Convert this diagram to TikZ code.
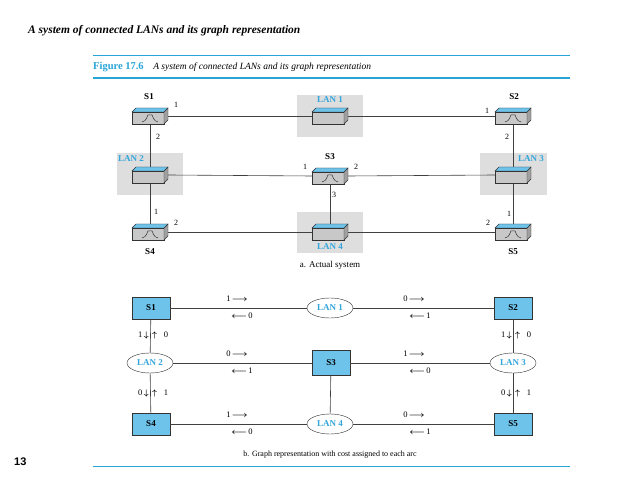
\documentclass[tikz,border=0pt]{standalone}
\usepackage{amsmath}
\usepackage{fontspec}
\setmainfont{Liberation Serif}
\newfontfamily\sansf{Liberation Sans}
\usetikzlibrary{shapes.geometric}
\definecolor{boxblue}{RGB}{110,195,235}
\definecolor{txtblue}{RGB}{50,165,220}
\definecolor{lanbg}{RGB}{222,222,222}
\definecolor{rule}{RGB}{40,165,215}
\definecolor{devgray}{RGB}{200,200,200}
\tikzset{
  devnode/.style={minimum width=36pt,minimum height=16pt,inner sep=0pt},
  link/.style={draw=black!75,line width=0.6pt},
  port/.style={font=\fontsize{8}{9}\selectfont,inner sep=0pt},
  sw/.style={font=\bfseries\fontsize{9}{10}\selectfont,inner sep=0pt},
  lanlbl/.style={font=\bfseries\fontsize{9}{10}\selectfont,text=txtblue,inner sep=0pt},
  gbox/.style={draw=black!80,fill=boxblue,minimum width=38pt,minimum height=22pt,font=\bfseries\fontsize{9}{10}\selectfont,inner sep=0pt},
  gell/.style={ellipse,draw=black!80,fill=white,minimum width=46pt,minimum height=20pt,font=\bfseries\fontsize{9}{10}\selectfont,text=txtblue,inner sep=0pt},
  cost/.style={font=\fontsize{8.5}{9}\selectfont,inner sep=0pt},
  captext/.style={font=\fontsize{9}{10}\selectfont,inner sep=0pt},
  dev/.pic={
    \fill[devgray,draw=black!80,line width=0.4pt] (-18,-4) rectangle (14,8);
    \fill[devgray!80!black,draw=black!80,line width=0.4pt] (14,-4)--(18,-8)--(18,4)--(14,8)--cycle;
    \fill[boxblue,draw=black!80,line width=0.4pt] (-18,-4)--(-14,-8)--(18,-8)--(14,-4)--cycle;
  },
  swsym/.pic={
    \draw[black!80,line width=0.5pt] (-8,6) .. controls (-3,5) and (-3,0) .. (-2,-1) -- (2,-1) .. controls (3,0) and (3,5) .. (8,6);
  }
}
\begin{document}
\begin{tikzpicture}[x=1pt,y=-1pt]
\useasboundingbox (0,0) rectangle (638,478);
\fill[white] (0,0) rectangle (638,478);
% title
\node[anchor=west,font=\bfseries\itshape\fontsize{11.5}{13}\selectfont,inner sep=0pt] (title) at (28,31) {A system of connected LANs and its graph representation};
\node[anchor=west,font=\sansf\bfseries\fontsize{11}{13}\selectfont,inner sep=0pt] (pg) at (14,462) {13};
% header
\draw[rule,line width=0.5pt] (93,55) -- (570,55);
\node[anchor=west,inner sep=0pt,font=\fontsize{9.5}{11}\selectfont] (fig) at (93,67) {\textcolor{rule}{\bfseries\fontsize{10.5}{11}\selectfont Figure 17.6}\quad\textit{A system of connected LANs and its graph representation}};
\draw[rule,line width=2pt] (93,78) -- (570,78);
% ---- part a ----
\fill[lanbg] (297,95) rectangle (363,137);
\fill[lanbg] (117,153) rectangle (183,195);
\fill[lanbg] (480,153) rectangle (547,195);
\fill[lanbg] (297,212) rectangle (363,253);
\node[devnode] (s1) at (150,116) {};
\node[devnode] (l1) at (330,116) {};
\node[devnode] (s2) at (513,116) {};
\node[devnode] (l2) at (150,175) {};
\node[devnode] (s3) at (330,176) {};
\node[devnode] (l3) at (513,175) {};
\node[devnode] (s4) at (150,232) {};
\node[devnode] (l4) at (330,232) {};
\node[devnode] (s5) at (513,232) {};
\draw[link] (s1.east) -- (l1.west);
\draw[link] (l1.east) -- (s2.west);
\draw[link] (l2.east) -- (s3.west);
\draw[link] (s3.east) -- (l3.west);
\draw[link] (s4.east) -- (l4.west);
\draw[link] (l4.east) -- (s5.west);
\draw[link] (s1.south) -- (l2.center);
\draw[link] (l2.center) -- (s4.center);
\draw[link] (s2.south) -- (l3.center);
\draw[link] (l3.center) -- (s5.center);
\draw[link] (s3.south) -- (l4.center);
\foreach \n/\p in {s1/{150,116},s2/{513,116},s3/{330,176},s4/{150,232},s5/{513,232}}{
  \pic at (\p) {dev}; \pic at (\p) {swsym};}
\foreach \p in {{330,116},{150,175},{513,175},{330,232}}{\pic at (\p) {dev};}
\node[sw] (ls1) at (149,97) {S1};
\node[sw] (ls2) at (514,97) {S2};
\node[sw] (ls3) at (330,157) {S3};
\node[sw] (ls4) at (150,252) {S4};
\node[sw] (ls5) at (513,252) {S5};
\node[lanlbl] (ll1) at (330,100) {LAN 1};
\node[lanlbl] (ll2) at (131,159) {LAN 2};
\node[lanlbl] (ll3) at (531,159) {LAN 3};
\node[lanlbl] (ll4) at (330,247) {LAN 4};
\node[port] (p11) at (176,105) {1};
\node[port] (p12) at (158,137) {2};
\node[port] (p21) at (487,111) {1};
\node[port] (p22) at (507,137) {2};
\node[port] (p31) at (305,167) {1};
\node[port] (p32) at (356,167) {2};
\node[port] (p33) at (334,195) {3};
\node[port] (p41) at (156,212) {1};
\node[port] (p42) at (176,223) {2};
\node[port] (p52) at (488,223) {2};
\node[port] (p51) at (509,214) {1};
\node[captext] (capa) at (330,265) {a. Actual system};
% ---- part b ----
\node[gbox] (g1) at (151,308) {S1};
\node[gell] (gl1) at (330,308) {LAN 1};
\node[gbox] (g2) at (513,308) {S2};
\node[gell] (gl2) at (150,363) {LAN 2};
\node[gbox,minimum height=25pt] (g3) at (331,363) {S3};
\node[gell] (gl3) at (513,363) {LAN 3};
\node[gbox] (g4) at (151,424) {S4};
\node[gell] (gl4) at (330,424) {LAN 4};
\node[gbox] (g5) at (513,424) {S5};
\draw[link] (g1) -- (gl1); \draw[link] (gl1) -- (g2);
\draw[link] (gl2) -- (g3); \draw[link] (g3) -- (gl3);
\draw[link] (g4) -- (gl4); \draw[link] (gl4) -- (g5);
\draw[link] (g1) -- (gl2); \draw[link] (gl2) -- (g4);
\draw[link] (g2) -- (gl3); \draw[link] (gl3) -- (g5);
\draw[link] (g3) -- (gl4);
\newcommand\ra[1]{#1\,$\boldsymbol{\longrightarrow}$}
\newcommand\la[1]{$\boldsymbol{\longleftarrow}$\,#1}
\foreach \y/\a/\b/\c/\d in {299/1/0/0/1,354/0/1/1/0,415/1/0/0/1}{
  \node[cost] at (237,\y) {\ra{\a}};
  \node[cost] at (242,\y+17) {\la{\b}};
  \node[cost] at (414,\y) {\ra{\c}};
  \node[cost] at (420,\y+17) {\la{\d}};
}
\foreach \x in {150,513}{
  \node[cost,anchor=east] at (\x-1,335) {1\,$\boldsymbol{\downarrow}$};
  \node[cost,anchor=west] at (\x+2,335) {$\boldsymbol{\uparrow}$\,0};
  \node[cost,anchor=east] at (\x-1,393) {0\,$\boldsymbol{\downarrow}$};
  \node[cost,anchor=west] at (\x+2,393) {$\boldsymbol{\uparrow}$\,1};
}
\node[captext,font=\fontsize{8}{9}\selectfont] (capb) at (330,455) {b. Graph representation with cost assigned to each arc};
\draw[rule,line width=0.5pt] (93,466) -- (570,466);
\end{tikzpicture}
\end{document}
